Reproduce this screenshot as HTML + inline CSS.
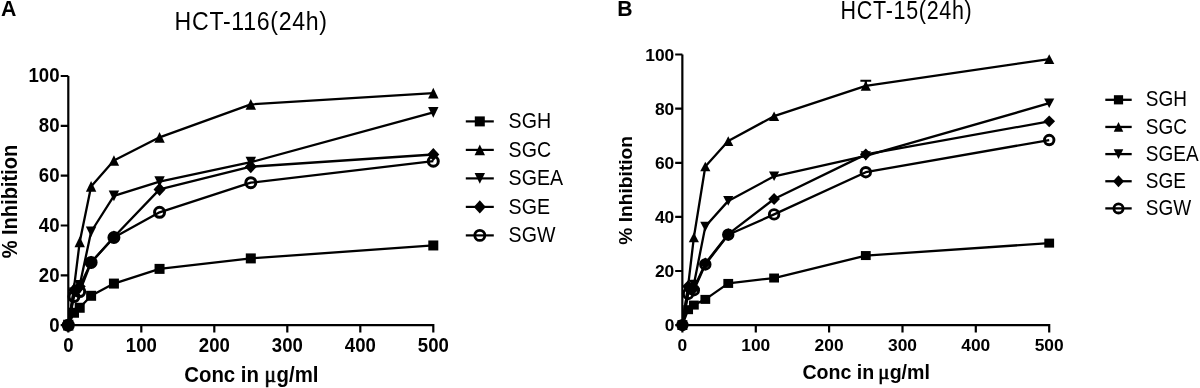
<!DOCTYPE html>
<html><head><meta charset="utf-8"><title>HCT-116 and HCT-15 inhibition</title>
<style>
html,body{margin:0;padding:0;background:#fff;}
body{width:1200px;height:388px;overflow:hidden;}
svg{display:block;}
text{font-family:"Liberation Sans",Arial,sans-serif;fill:#000;}
.b{font-weight:bold;}
</style></head><body>
<svg width="1200" height="388" viewBox="0 0 1200 388">
<rect width="1200" height="388" fill="#fff"/>
<!-- panel letters -->
<text class="b" x="0.9" y="16.2" font-size="21.3">A</text>
<text class="b" x="617.3" y="15.9" font-size="21.2">B</text>
<!-- titles -->
<text transform="translate(174.6 29.8) scale(0.94 1.05)" font-size="24.6" letter-spacing="0.75">HCT-116(24h)</text>
<text transform="translate(840.6 18.9) scale(0.95 1.11)" font-size="22.6" letter-spacing="0.75">HCT-15(24h)</text>
<!-- axes A -->
<path d="M68.3 75.9V325.2H433.3" fill="none" stroke="#000" stroke-width="2.2"/>
<path d="M60.7 76.0H68.3M60.7 125.8H68.3M60.7 175.7H68.3M60.7 225.5H68.3M60.7 275.4H68.3M60.7 325.2H68.3" stroke="#000" stroke-width="2.2"/>
<path d="M68.3 325.2V332.6M141.3 325.2V332.6M214.3 325.2V332.6M287.3 325.2V332.6M360.3 325.2V332.6M433.3 324.1V332.6" stroke="#000" stroke-width="2.2"/>
<g class="b" font-size="18.6" text-anchor="end">
<text transform="translate(59.5 82.4) scale(1 1.05)">100</text>
<text transform="translate(59.5 132.3) scale(1 1.05)">80</text>
<text transform="translate(59.5 182.1) scale(1 1.05)">60</text>
<text transform="translate(59.5 232.0) scale(1 1.05)">40</text>
<text transform="translate(59.5 281.8) scale(1 1.05)">20</text>
<text transform="translate(59.5 331.7) scale(1 1.05)">0</text>
</g>
<g class="b" font-size="18.6" text-anchor="middle">
<text transform="translate(68.3 351.9) scale(1 1.06)">0</text>
<text transform="translate(141.3 351.9) scale(1 1.06)">100</text>
<text transform="translate(214.3 351.9) scale(1 1.06)">200</text>
<text transform="translate(287.3 351.9) scale(1 1.06)">300</text>
<text transform="translate(360.3 351.9) scale(1 1.06)">400</text>
<text transform="translate(433.3 351.9) scale(1 1.06)">500</text>
</g>
<text class="b" font-size="20.4" transform="translate(17.3 201.6) rotate(-90) scale(0.982 1.08)" text-anchor="middle">% Inhibition</text>
<text class="b" font-size="20.4" transform="translate(184.2 382.1) scale(1 1.05)">Conc in <tspan dx="-0.2" font-family="Liberation Serif" font-weight="normal" font-size="21.5" stroke="#000" stroke-width="0.7">&#956;</tspan><tspan dx="0.6">g/ml</tspan></text>
<!-- axes B -->
<path d="M682.35 54.4V325.1H1049.2" fill="none" stroke="#000" stroke-width="2.2"/>
<path d="M675.2 54.5H682.4M675.2 108.6H682.4M675.2 162.8H682.4M675.2 216.9H682.4M675.2 271.0H682.4M675.2 325.1H682.4" stroke="#000" stroke-width="2.2"/>
<path d="M682.4 325.1V332.5M755.8 325.1V332.5M829.1 325.1V332.5M902.5 325.1V332.5M975.8 325.1V332.5M1049.2 324.0V332.5" stroke="#000" stroke-width="2.2"/>
<g class="b" font-size="17.4" text-anchor="end">
<text x="674.3" y="60.7">100</text>
<text x="674.3" y="114.8">80</text>
<text x="674.3" y="169.0">60</text>
<text x="674.3" y="223.1">40</text>
<text x="674.3" y="277.2">20</text>
<text x="674.3" y="331.3">0</text>
</g>
<g class="b" font-size="17.4" text-anchor="middle">
<text x="682.4" y="350.8">0</text>
<text x="755.8" y="350.8">100</text>
<text x="829.1" y="350.8">200</text>
<text x="902.5" y="350.8">300</text>
<text x="975.8" y="350.8">400</text>
<text x="1049.2" y="350.8">500</text>
</g>
<text class="b" font-size="19.2" transform="translate(632.4 190.3) rotate(-90)" text-anchor="middle">% Inhibition</text>
<text class="b" font-size="19.6" x="802.4" y="379.4">Conc in <tspan dx="-1.4" font-family="Liberation Serif" font-weight="normal" font-size="20.8" stroke="#000" stroke-width="0.6">&#956;</tspan><tspan dx="0.2">g/ml</tspan></text>
<!-- legends text -->
<g font-size="19.6"><text transform="translate(508.6 128.10) scale(1 1.15)">SGH</text><text transform="translate(508.6 156.60) scale(1 1.15)">SGC</text><text transform="translate(508.6 185.10) scale(1 1.15)">SGEA</text><text transform="translate(508.6 213.60) scale(1 1.15)">SGE</text><text transform="translate(508.6 242.10) scale(1 1.15)">SGW</text></g>
<g font-size="19.0"><text transform="translate(1145.8 106.40) scale(1 1.15)">SGH</text><text transform="translate(1145.8 133.55) scale(1 1.15)">SGC</text><text transform="translate(1145.8 160.70) scale(1 1.15)">SGEA</text><text transform="translate(1145.8 187.85) scale(1 1.15)">SGE</text><text transform="translate(1145.8 215.00) scale(1 1.15)">SGW</text></g>
<!-- data -->
<polyline points="68.30,325.20 74.00,312.74 79.71,307.76 91.11,295.79 113.92,283.58 159.55,268.88 250.80,258.41 433.30,245.46" fill="none" stroke="#000" stroke-width="2.3" stroke-linejoin="round"/>
<polyline points="68.30,325.20 74.00,287.82 79.71,241.97 91.11,186.40 113.92,160.48 159.55,137.30 250.80,104.41 433.30,93.19" fill="none" stroke="#000" stroke-width="2.3" stroke-linejoin="round"/>
<polyline points="68.30,325.20 74.00,292.80 79.71,285.33 91.11,231.75 113.92,195.87 159.55,181.66 250.80,162.22 433.30,112.38" fill="none" stroke="#000" stroke-width="2.3" stroke-linejoin="round"/>
<polyline points="68.30,325.20 74.00,290.31 79.71,286.57 91.11,262.40 113.92,236.98 159.55,189.39 250.80,166.71 433.30,154.50" fill="none" stroke="#000" stroke-width="2.3" stroke-linejoin="round"/>
<polyline points="68.30,325.20 74.00,296.54 79.71,291.56 91.11,262.40 113.92,237.48 159.55,212.31 250.80,182.66 433.30,161.23" fill="none" stroke="#000" stroke-width="2.3" stroke-linejoin="round"/>
<circle cx="68.30" cy="325.20" r="5.00" fill="none" stroke="#000" stroke-width="3.0"/>
<circle cx="74.00" cy="296.54" r="5.00" fill="none" stroke="#000" stroke-width="3.0"/>
<circle cx="79.71" cy="291.56" r="5.00" fill="none" stroke="#000" stroke-width="3.0"/>
<circle cx="91.11" cy="262.40" r="5.00" fill="none" stroke="#000" stroke-width="3.0"/>
<circle cx="113.92" cy="237.48" r="5.00" fill="none" stroke="#000" stroke-width="3.0"/>
<circle cx="159.55" cy="212.31" r="5.00" fill="none" stroke="#000" stroke-width="3.0"/>
<circle cx="250.80" cy="182.66" r="5.00" fill="none" stroke="#000" stroke-width="3.0"/>
<circle cx="433.30" cy="161.23" r="5.00" fill="none" stroke="#000" stroke-width="3.0"/>
<rect x="63.30" y="320.20" width="10.00" height="10.00" fill="#000"/>
<rect x="69.00" y="307.74" width="10.00" height="10.00" fill="#000"/>
<rect x="74.71" y="302.76" width="10.00" height="10.00" fill="#000"/>
<rect x="86.11" y="290.79" width="10.00" height="10.00" fill="#000"/>
<rect x="108.92" y="278.58" width="10.00" height="10.00" fill="#000"/>
<rect x="154.55" y="263.88" width="10.00" height="10.00" fill="#000"/>
<rect x="245.80" y="253.41" width="10.00" height="10.00" fill="#000"/>
<rect x="428.30" y="240.46" width="10.00" height="10.00" fill="#000"/>
<path d="M68.30 319.85L73.50 330.55L63.10 330.55Z" fill="#000"/>
<path d="M74.00 282.47L79.20 293.17L68.80 293.17Z" fill="#000"/>
<path d="M79.71 236.62L84.91 247.32L74.51 247.32Z" fill="#000"/>
<path d="M91.11 181.05L96.31 191.75L85.91 191.75Z" fill="#000"/>
<path d="M113.92 155.13L119.12 165.83L108.72 165.83Z" fill="#000"/>
<path d="M159.55 131.95L164.75 142.65L154.35 142.65Z" fill="#000"/>
<path d="M250.80 99.06L256.00 109.76L245.60 109.76Z" fill="#000"/>
<path d="M433.30 87.84L438.50 98.54L428.10 98.54Z" fill="#000"/>
<path d="M68.30 330.55L73.50 319.85L63.10 319.85Z" fill="#000"/>
<path d="M74.00 298.15L79.20 287.45L68.80 287.45Z" fill="#000"/>
<path d="M79.71 290.68L84.91 279.98L74.51 279.98Z" fill="#000"/>
<path d="M91.11 237.10L96.31 226.40L85.91 226.40Z" fill="#000"/>
<path d="M113.92 201.22L119.12 190.52L108.72 190.52Z" fill="#000"/>
<path d="M159.55 187.01L164.75 176.31L154.35 176.31Z" fill="#000"/>
<path d="M250.80 167.57L256.00 156.87L245.60 156.87Z" fill="#000"/>
<path d="M433.30 117.73L438.50 107.03L428.10 107.03Z" fill="#000"/>
<path d="M68.30 318.60L74.30 325.20L68.30 331.80L62.30 325.20Z" fill="#000"/>
<path d="M74.00 283.71L80.00 290.31L74.00 296.91L68.00 290.31Z" fill="#000"/>
<path d="M79.71 279.97L85.71 286.57L79.71 293.17L73.71 286.57Z" fill="#000"/>
<path d="M91.11 255.80L97.11 262.40L91.11 269.00L85.11 262.40Z" fill="#000"/>
<path d="M113.92 230.38L119.92 236.98L113.92 243.58L107.92 236.98Z" fill="#000"/>
<path d="M159.55 182.79L165.55 189.39L159.55 195.99L153.55 189.39Z" fill="#000"/>
<path d="M250.80 160.11L256.80 166.71L250.80 173.31L244.80 166.71Z" fill="#000"/>
<path d="M433.30 147.90L439.30 154.50L433.30 161.10L427.30 154.50Z" fill="#000"/>
<line x1="465.8" y1="121.40" x2="493.8" y2="121.40" stroke="#000" stroke-width="2.2"/>
<rect x="474.80" y="116.40" width="10.00" height="10.00" fill="#000"/>
<line x1="465.8" y1="149.90" x2="493.8" y2="149.90" stroke="#000" stroke-width="2.2"/>
<path d="M479.80 144.55L485.00 155.25L474.60 155.25Z" fill="#000"/>
<line x1="465.8" y1="178.40" x2="493.8" y2="178.40" stroke="#000" stroke-width="2.2"/>
<path d="M479.80 183.75L485.00 173.05L474.60 173.05Z" fill="#000"/>
<line x1="465.8" y1="206.90" x2="493.8" y2="206.90" stroke="#000" stroke-width="2.2"/>
<path d="M479.80 200.30L485.80 206.90L479.80 213.50L473.80 206.90Z" fill="#000"/>
<line x1="465.8" y1="235.40" x2="493.8" y2="235.40" stroke="#000" stroke-width="2.2"/>
<circle cx="479.80" cy="235.40" r="5.00" fill="none" stroke="#000" stroke-width="2.8"/>
<polyline points="682.40,325.10 688.13,309.68 693.86,305.08 705.32,299.39 728.25,283.43 774.10,278.02 865.80,255.56 1049.20,243.11" fill="none" stroke="#000" stroke-width="2.3" stroke-linejoin="round"/>
<polyline points="682.40,325.10 688.13,285.86 693.86,237.43 705.32,166.53 728.25,141.09 774.10,116.20 865.80,85.89 1049.20,59.10" fill="none" stroke="#000" stroke-width="2.3" stroke-linejoin="round"/>
<polyline points="682.40,325.10 688.13,291.28 693.86,284.51 705.32,226.60 728.25,200.89 774.10,176.27 865.80,155.98 1049.20,103.21" fill="none" stroke="#000" stroke-width="2.3" stroke-linejoin="round"/>
<polyline points="682.40,325.10 688.13,286.13 693.86,288.57 705.32,263.40 728.25,234.18 774.10,199.00 865.80,154.35 1049.20,121.34" fill="none" stroke="#000" stroke-width="2.3" stroke-linejoin="round"/>
<polyline points="682.40,325.10 688.13,293.98 693.86,290.19 705.32,264.49 728.25,234.72 774.10,214.42 865.80,172.21 1049.20,140.01" fill="none" stroke="#000" stroke-width="2.3" stroke-linejoin="round"/>
<path d="M865.80 85.89V80.75M860.40 80.75H871.20" stroke="#000" stroke-width="2.2" fill="none"/>
<circle cx="682.40" cy="325.10" r="4.75" fill="none" stroke="#000" stroke-width="2.9"/>
<circle cx="688.13" cy="293.98" r="4.75" fill="none" stroke="#000" stroke-width="2.9"/>
<circle cx="693.86" cy="290.19" r="4.75" fill="none" stroke="#000" stroke-width="2.9"/>
<circle cx="705.32" cy="264.49" r="4.75" fill="none" stroke="#000" stroke-width="2.9"/>
<circle cx="728.25" cy="234.72" r="4.75" fill="none" stroke="#000" stroke-width="2.9"/>
<circle cx="774.10" cy="214.42" r="4.75" fill="none" stroke="#000" stroke-width="2.9"/>
<circle cx="865.80" cy="172.21" r="4.75" fill="none" stroke="#000" stroke-width="2.9"/>
<circle cx="1049.20" cy="140.01" r="4.75" fill="none" stroke="#000" stroke-width="2.9"/>
<rect x="677.50" y="320.60" width="9.80" height="9.00" fill="#000"/>
<rect x="683.23" y="305.18" width="9.80" height="9.00" fill="#000"/>
<rect x="688.96" y="300.58" width="9.80" height="9.00" fill="#000"/>
<rect x="700.42" y="294.89" width="9.80" height="9.00" fill="#000"/>
<rect x="723.35" y="278.93" width="9.80" height="9.00" fill="#000"/>
<rect x="769.20" y="273.52" width="9.80" height="9.00" fill="#000"/>
<rect x="860.90" y="251.06" width="9.80" height="9.00" fill="#000"/>
<rect x="1044.30" y="238.61" width="9.80" height="9.00" fill="#000"/>
<path d="M682.40 320.29L687.50 329.92L677.30 329.92Z" fill="#000"/>
<path d="M688.13 281.05L693.23 290.68L683.04 290.68Z" fill="#000"/>
<path d="M693.86 232.61L698.96 242.24L688.77 242.24Z" fill="#000"/>
<path d="M705.32 161.71L710.42 171.34L700.23 171.34Z" fill="#000"/>
<path d="M728.25 136.28L733.35 145.91L723.15 145.91Z" fill="#000"/>
<path d="M774.10 111.38L779.20 121.01L769.00 121.01Z" fill="#000"/>
<path d="M865.80 81.07L870.90 90.70L860.70 90.70Z" fill="#000"/>
<path d="M1049.20 54.29L1054.30 63.92L1044.10 63.92Z" fill="#000"/>
<path d="M682.40 329.92L687.50 320.29L677.30 320.29Z" fill="#000"/>
<path d="M688.13 296.09L693.23 286.46L683.04 286.46Z" fill="#000"/>
<path d="M693.86 289.33L698.96 279.70L688.77 279.70Z" fill="#000"/>
<path d="M705.32 231.42L710.42 221.79L700.23 221.79Z" fill="#000"/>
<path d="M728.25 205.71L733.35 196.08L723.15 196.08Z" fill="#000"/>
<path d="M774.10 181.09L779.20 171.46L769.00 171.46Z" fill="#000"/>
<path d="M865.80 160.79L870.90 151.16L860.70 151.16Z" fill="#000"/>
<path d="M1049.20 108.02L1054.30 98.39L1044.10 98.39Z" fill="#000"/>
<path d="M682.40 319.16L688.28 325.10L682.40 331.04L676.52 325.10Z" fill="#000"/>
<path d="M688.13 280.19L694.01 286.13L688.13 292.07L682.25 286.13Z" fill="#000"/>
<path d="M693.86 282.63L699.74 288.57L693.86 294.51L687.98 288.57Z" fill="#000"/>
<path d="M705.32 257.46L711.20 263.40L705.32 269.34L699.44 263.40Z" fill="#000"/>
<path d="M728.25 228.24L734.13 234.18L728.25 240.12L722.37 234.18Z" fill="#000"/>
<path d="M774.10 193.06L779.98 199.00L774.10 204.94L768.22 199.00Z" fill="#000"/>
<path d="M865.80 148.41L871.68 154.35L865.80 160.29L859.92 154.35Z" fill="#000"/>
<path d="M1049.20 115.40L1055.08 121.34L1049.20 127.28L1043.32 121.34Z" fill="#000"/>
<line x1="1105.3" y1="99.80" x2="1131.7" y2="99.80" stroke="#000" stroke-width="2.3"/>
<rect x="1113.90" y="95.20" width="9.20" height="9.20" fill="#000"/>
<line x1="1105.3" y1="126.95" x2="1131.7" y2="126.95" stroke="#000" stroke-width="2.3"/>
<path d="M1118.50 122.03L1123.28 131.87L1113.72 131.87Z" fill="#000"/>
<line x1="1105.3" y1="154.10" x2="1131.7" y2="154.10" stroke="#000" stroke-width="2.3"/>
<path d="M1118.50 159.02L1123.28 149.18L1113.72 149.18Z" fill="#000"/>
<line x1="1105.3" y1="181.25" x2="1131.7" y2="181.25" stroke="#000" stroke-width="2.3"/>
<path d="M1118.50 175.18L1124.02 181.25L1118.50 187.32L1112.98 181.25Z" fill="#000"/>
<line x1="1105.3" y1="208.40" x2="1131.7" y2="208.40" stroke="#000" stroke-width="2.3"/>
<circle cx="1118.50" cy="208.40" r="4.60" fill="none" stroke="#000" stroke-width="2.8"/>
</svg>
</body></html>
